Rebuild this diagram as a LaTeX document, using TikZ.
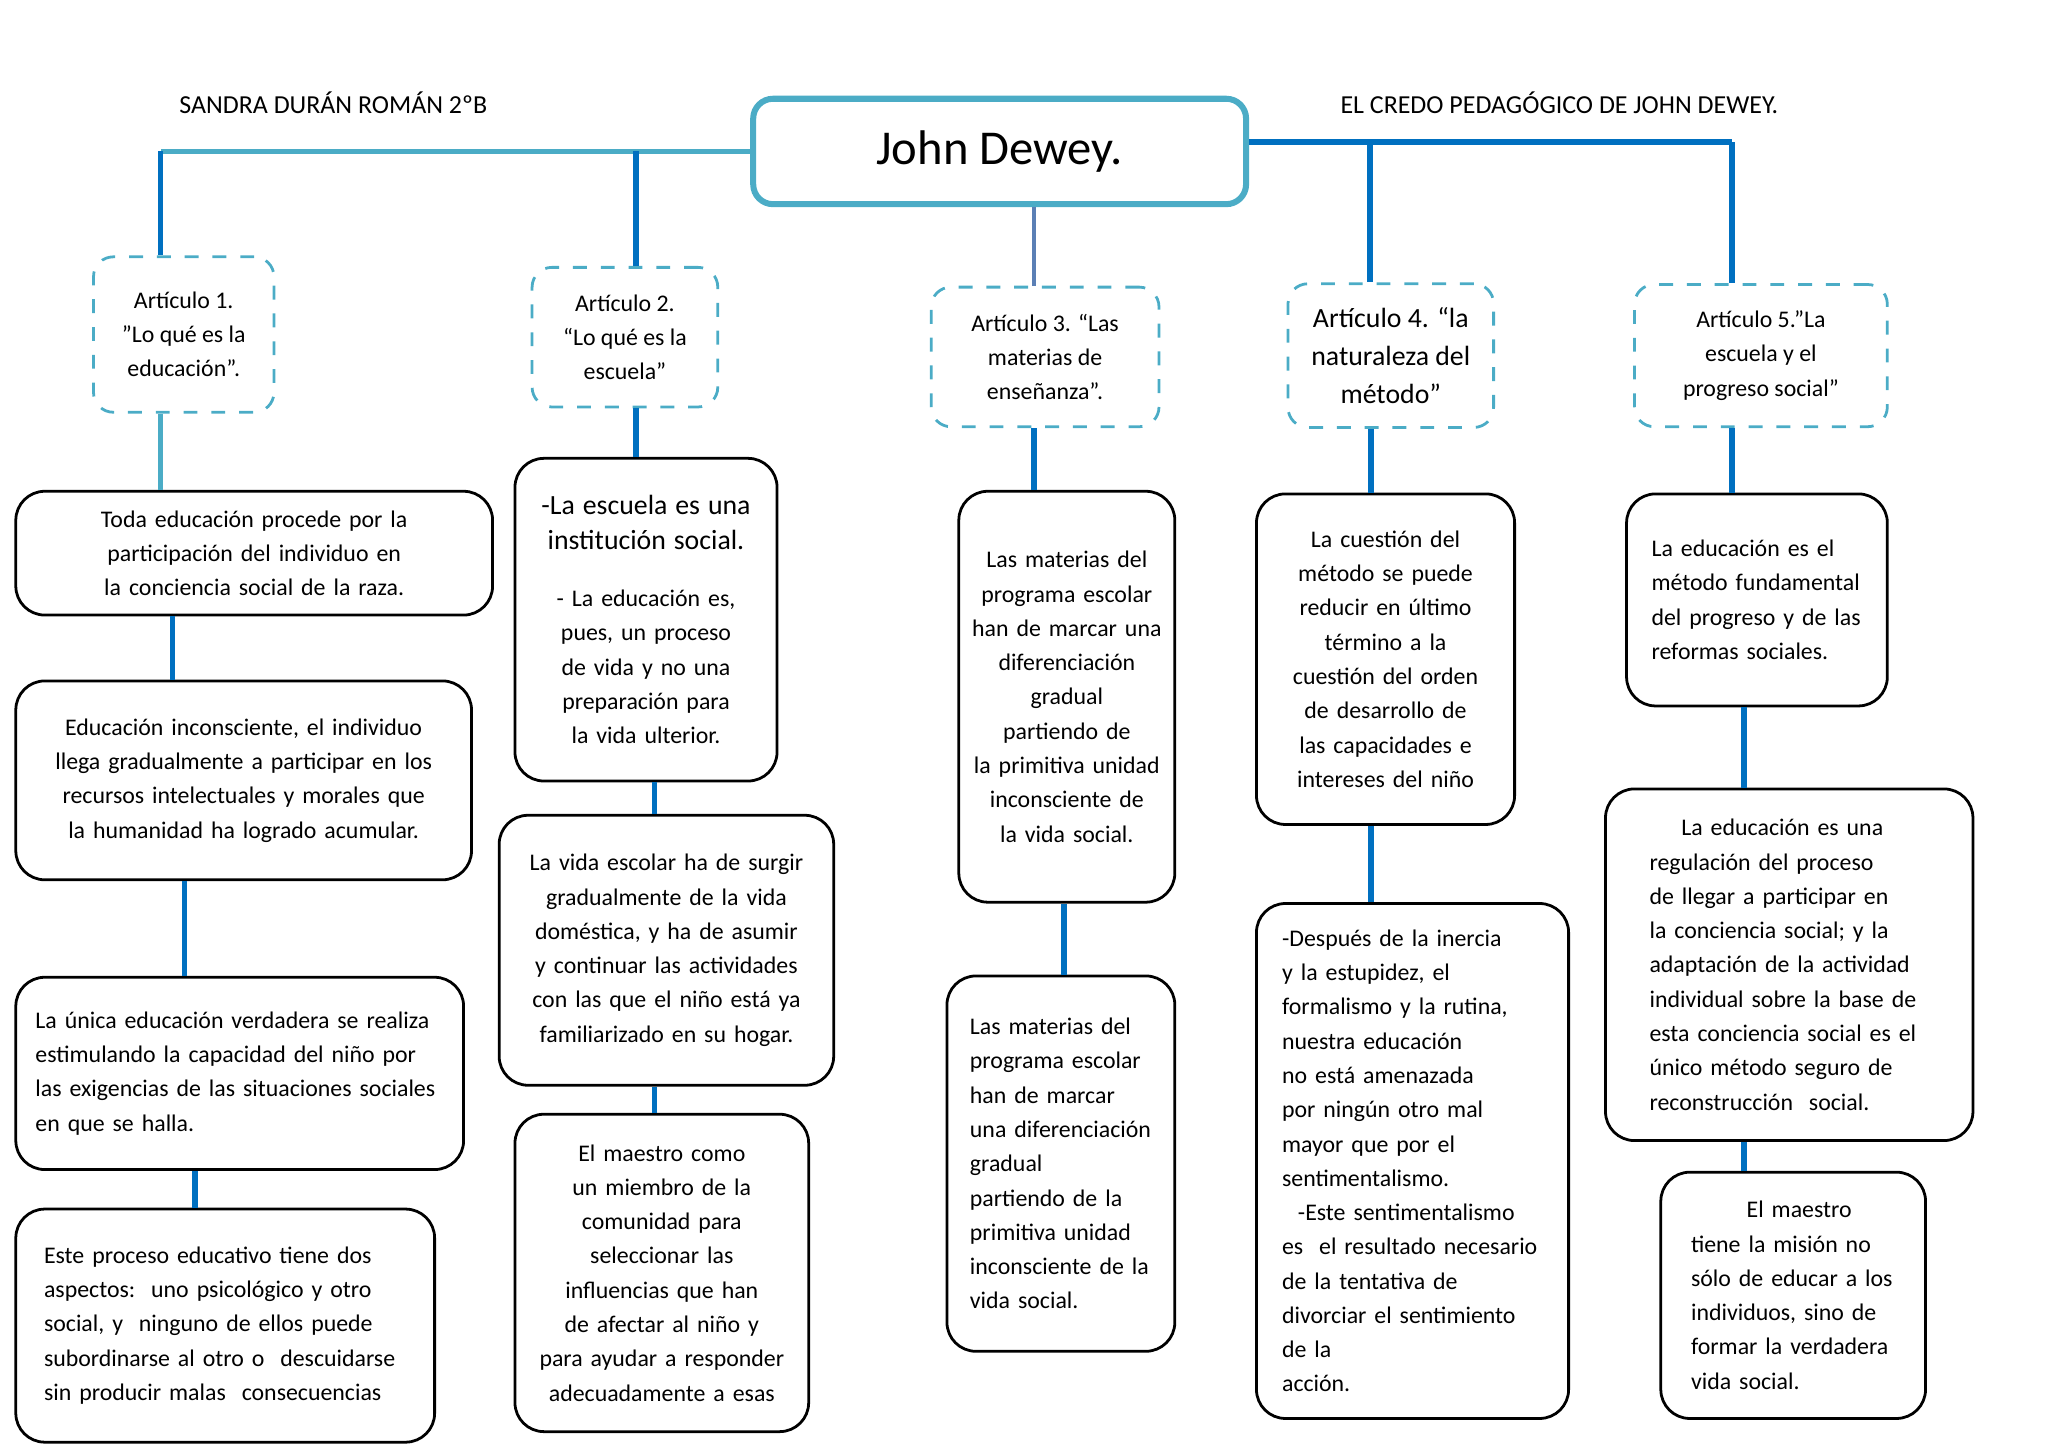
\documentclass[tikz,border=0pt]{standalone}
\usepackage{fontspec}
\setmainfont{Carlito}[HyphenChar=None]
\definecolor{lb}{HTML}{4BACC6}
\definecolor{db}{HTML}{0070C0}
\definecolor{gb}{HTML}{5B7FB5}
\begin{document}
\begin{tikzpicture}[x=0.01cm,y=-0.01cm,
 bx/.style={draw=black,line width=0.6pt,rounded corners=0.22cm,inner sep=0pt,font=\fontsize{5.15}{7.4}\selectfont},
 art/.style={draw=lb,dashed,line width=0.6pt,rounded corners=0.15cm,inner sep=0pt,align=center,font=\fontsize{5.15}{7.4}\selectfont},
 cn/.style={db,line width=1.2pt},
 cl/.style={lb,line width=1.2pt}]
\useasboundingbox (0,0) rectangle (1555,1100);
\newcommand\bx[7]{\node[bx,#6,minimum width={(#4-#2)*0.01cm},minimum height={(#5-#3)*0.01cm}] (#1) at ({(#2+#4)/2},{(#3+#5)/2}) {#7};}
\newcommand\ar[6]{\node[art,minimum width={(#4-#2)*0.01cm},minimum height={(#5-#3)*0.01cm}] (#1) at ({(#2+#4)/2},{(#3+#5)/2}) {#6};}
\node[font=\fontsize{5.6}{7}\selectfont] (h1) at (253,78) {SANDRA DURÁN ROMÁN 2ºB};
\node[font=\fontsize{5.6}{7}\selectfont] (h2) at (1184,78) {EL CREDO PEDAGÓGICO DE JOHN DEWEY.};
\node[draw=lb,line width=1.3pt,rounded corners=0.15cm,minimum width=3.74cm,minimum height=0.8cm,font=\fontsize{10.5}{12}\selectfont] (t) at (759,115) {John Dewey.};
\ar{a1}{71}{195}{208}{313}{Artículo 1.\\”Lo qué es la\\educación”.}
\ar{a2}{404}{203}{545}{309}{Artículo 2.\\“Lo qué es la\\escuela”}
\ar{a3}{707}{218}{880}{324}{Artículo 3. “Las\\materias de\\enseñanza”.}
\node[art,font=\fontsize{6}{8.3}\selectfont,minimum width=1.56cm,minimum height=1.09cm] (a4) at (1056,270) {Artículo 4. “la\\naturaleza del\\método”};
\ar{a5}{1241}{216}{1433}{324}{Artículo 5.”La\\escuela y el\\progreso social”}
\bx{b11}{12}{373}{374}{467}{align=center,text width=3.5cm}{Toda educación procede por la participación del individuo en la conciencia social de la raza.}
\bx{b12}{12}{517}{358}{668}{align=center,text width=3.0cm}{Educación inconsciente, el individuo llega gradualmente a participar en los recursos intelectuales y morales que la humanidad ha logrado acumular.}
\bx{b13}{12}{742}{352}{888}{align=left,text width=3.1cm}{La única educación verdadera se realiza estimulando la capacidad del niño por las exigencias de las situaciones sociales en que se halla.}
\bx{b14}{12}{918}{330}{1095}{align=left,text width=2.75cm}{Este proceso educativo tiene dos aspectos:\ \ uno psicológico y otro social, y\ \ ninguno de ellos puede subordinarse al otro o\ \ descuidarse sin producir malas\ \ consecuencias}
\bx{b21}{391}{348}{590}{593}{align=center,text width=1.68cm}{{\fontsize{6}{8.3}\selectfont -La escuela es una institución social.}\\[5pt] - La educación es, pues, un proceso de vida y no una preparación para la vida ulterior.}
\bx{b22}{379}{619}{633}{824}{align=center,text width=2.1cm}{La vida escolar ha de surgir gradualmente de la vida doméstica, y ha de asumir y continuar las actividades con las que el niño está ya familiarizado en su hogar.}
\bx{b23}{391}{846}{614}{1087}{align=center,text width=1.9cm}{El maestro como un miembro de la comunidad para seleccionar las influencias que han de afectar al niño y para ayudar a responder adecuadamente a esas}
\bx{b31}{728}{373}{892}{685}{align=center,text width=1.45cm}{Las materias del programa escolar han de marcar una diferenciación gradual partiendo de la primitiva unidad inconsciente de la vida social.}
\bx{b32}{719}{741}{892}{1026}{align=left,text width=1.38cm}{Las materias del programa escolar han de marcar una diferenciación gradual partiendo de la primitiva unidad inconsciente de la vida social.}
\bx{b41}{954}{375}{1150}{626}{align=center,text width=1.55cm}{La cuestión del método se puede reducir en último término a la cuestión del orden de desarrollo de las capacidades e intereses del niño}
\bx{b42}{954}{686}{1191}{1077}{align=left,text width=1.98cm}{-Después de la inercia y la estupidez, el formalismo y la rutina, nuestra educación no está amenazada por ningún otro mal mayor que por el sentimentalismo.\\\ \ -Este sentimentalismo es\ \ el resultado necesario de la tentativa de divorciar el sentimiento de la\\ acción.}
\bx{b51}{1235}{375}{1433}{536}{align=left,text width=1.6cm}{La educación es el método fundamental del progreso y de las reformas sociales.}
\bx{b52}{1219}{599}{1498}{866}{align=left,text width=2.12cm}{\ \ \ \ La educación es una regulación del proceso de llegar a participar en la conciencia social; y la adaptación de la actividad individual sobre la base de esta conciencia social es el único método seguro de reconstrucción\ \ social.}
\bx{b53}{1261}{890}{1462}{1077}{align=left,text width=1.55cm}{\ \ \ \ \ \ \ El maestro\\ tiene la misión no sólo de educar a los individuos, sino de formar la verdadera vida social.}
% connectors
\draw[cl] (t.west |- 0,115) -- (122,115) coordinate (c1);
\draw[cn] (c1) -- (a1.north -| c1);
\draw[cn] (483,115) coordinate (c2) -- (a2.north -| c2);
\draw[db,line width=1.2pt] (t.east |- 0,108) -- (1315,108) coordinate (c5);
\draw[cn] (1040,108) coordinate (c4) -- (a4.north -| c4);
\draw[cn] (c5) -- (a5.north -| c5);
\draw[gb,line width=1pt] (t.south -| 785,0) -- (a3.north -| 785,0);
\draw[cl] (a1.south -| 122,0) -- (b11.north -| 122,0);
\draw[cn] (b11.south -| 131,0) -- (b12.north -| 131,0);
\draw[cn] (b12.south -| 140,0) -- (b13.north -| 140,0);
\draw[cn] (b13.south -| 148,0) -- (b14.north -| 148,0);
\draw[cn] (a2.south -| 483,0) -- (b21.north -| 483,0);
\draw[cn] (b21.south -| 497,0) -- (b22.north -| 497,0);
\draw[cn] (b22.south -| 497,0) -- (b23.north -| 497,0);
\draw[cn] (a3.south -| 785,0) -- (b31.north -| 785,0);
\draw[cn] (b31.south -| 808,0) -- (b32.north -| 808,0);
\draw[cn] (a4.south -| 1041,0) -- (b41.north -| 1041,0);
\draw[cn] (b41.south -| 1041,0) -- (b42.north -| 1041,0);
\draw[cn] (a5.south -| 1315,0) -- (b51.north -| 1315,0);
\draw[cn] (b51.south -| 1324,0) -- (b52.north -| 1324,0);
\draw[cn] (b52.south -| 1324,0) -- (b53.north -| 1324,0);
\end{tikzpicture}
\end{document}
